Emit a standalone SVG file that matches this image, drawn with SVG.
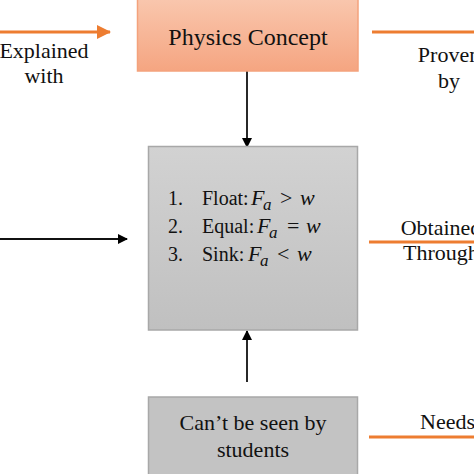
<svg xmlns="http://www.w3.org/2000/svg" width="474" height="474" viewBox="0 0 474 474">
<defs>
<linearGradient id="gOr" x1="0" y1="0" x2="0" y2="1">
<stop offset="0" stop-color="#f9c7ae"/>
<stop offset="1" stop-color="#f5a581"/>
</linearGradient>
<linearGradient id="gGr" x1="0" y1="0" x2="0" y2="1">
<stop offset="0" stop-color="#d2d2d2"/>
<stop offset="1" stop-color="#c0c0c0"/>
</linearGradient>
<marker id="mBlk" markerWidth="10" markerHeight="10" refX="9" refY="5" orient="auto" markerUnits="userSpaceOnUse" viewBox="0 0 10 10">
<path d="M0,0 L10,5 L0,10 Z" fill="#000"/>
</marker>
<marker id="mOr" markerWidth="14" markerHeight="14" refX="13" refY="7" orient="auto" markerUnits="userSpaceOnUse" viewBox="0 0 14 14">
<path d="M0,0 L14,7 L0,14 Z" fill="#ed7d31"/>
</marker>
</defs>
<style>
text{font-family:"Liberation Serif","Times New Roman",serif;fill:#111}
.lbl{font-size:22px}
.li{font-size:20px}
.m{font-style:italic;font-size:22px}
.op{font-size:22px}
.sub{font-style:italic;font-size:17px}
.or{stroke:#ed7d31;stroke-width:3;fill:none}
.bk{stroke:#111;stroke-width:1.8;fill:none}
</style>
<rect width="474" height="474" fill="#fff"/>
<g id="connectors">
<line class="or" x1="0" y1="32" x2="110" y2="32" marker-end="url(#mOr)"/>
<line class="or" x1="372" y1="32" x2="474" y2="32"/>
<line class="or" x1="369" y1="242" x2="474" y2="242"/>
<line class="or" x1="369" y1="437" x2="474" y2="437"/>
<line class="bk" x1="247" y1="71" x2="247" y2="147" marker-end="url(#mBlk)"/>
<line class="bk" x1="247" y1="382" x2="247" y2="331" marker-end="url(#mBlk)"/>
<line class="bk" x1="0" y1="239" x2="127" y2="239" marker-end="url(#mBlk)"/>
</g>
<g id="label-explained">
<text class="lbl" x="44" y="58" text-anchor="middle">Explained</text>
<text class="lbl" x="44" y="83" text-anchor="middle">with</text>
</g>
<g id="label-proven">
<text class="lbl" x="449" y="62" text-anchor="middle">Proven</text>
<text class="lbl" x="449" y="88" text-anchor="middle">by</text>
</g>
<g id="label-obtained">
<text class="lbl" x="441" y="235" text-anchor="middle">Obtained</text>
<text class="lbl" x="441" y="260" text-anchor="middle">Through</text>
</g>
<g id="label-needs">
<text class="lbl" x="420" y="429">Needs</text>
</g>
<g id="node-physics">
<rect x="137.5" y="-2" width="220.5" height="73" fill="url(#gOr)" stroke="#f4a27c" stroke-width="1.5"/>
<text x="248" y="45" text-anchor="middle" style="font-size:24px">Physics Concept</text>
</g>
<g id="node-conditions">
<rect x="148.5" y="146.5" width="209" height="183.5" fill="url(#gGr)" stroke="#a8a8a8" stroke-width="1.5"/>
<text class="li" y="205"><tspan x="168">1.</tspan><tspan x="202">Float:</tspan><tspan class="m" x="251">F</tspan><tspan class="sub" x="263" dy="5">a</tspan><tspan class="op" x="280" dy="-5">&gt;</tspan><tspan class="m" x="300">w</tspan></text>
<text class="li" y="233"><tspan x="168">2.</tspan><tspan x="202">Equal:</tspan><tspan class="m" x="257">F</tspan><tspan class="sub" x="269" dy="5">a</tspan><tspan class="op" x="287" dy="-5">=</tspan><tspan class="m" x="306">w</tspan></text>
<text class="li" y="261"><tspan x="168">3.</tspan><tspan x="202">Sink:</tspan><tspan class="m" x="248">F</tspan><tspan class="sub" x="260" dy="5">a</tspan><tspan class="op" x="277" dy="-5">&lt;</tspan><tspan class="m" x="297">w</tspan></text>
</g>
<g id="node-unseen">
<rect x="148.5" y="397" width="209" height="80" fill="#c3c3c3" stroke="#a8a8a8" stroke-width="1.5"/>
<text class="lbl" x="253" y="430" text-anchor="middle">Can’t be seen by</text>
<text class="lbl" x="253" y="457" text-anchor="middle">students</text>
</g>
</svg>
